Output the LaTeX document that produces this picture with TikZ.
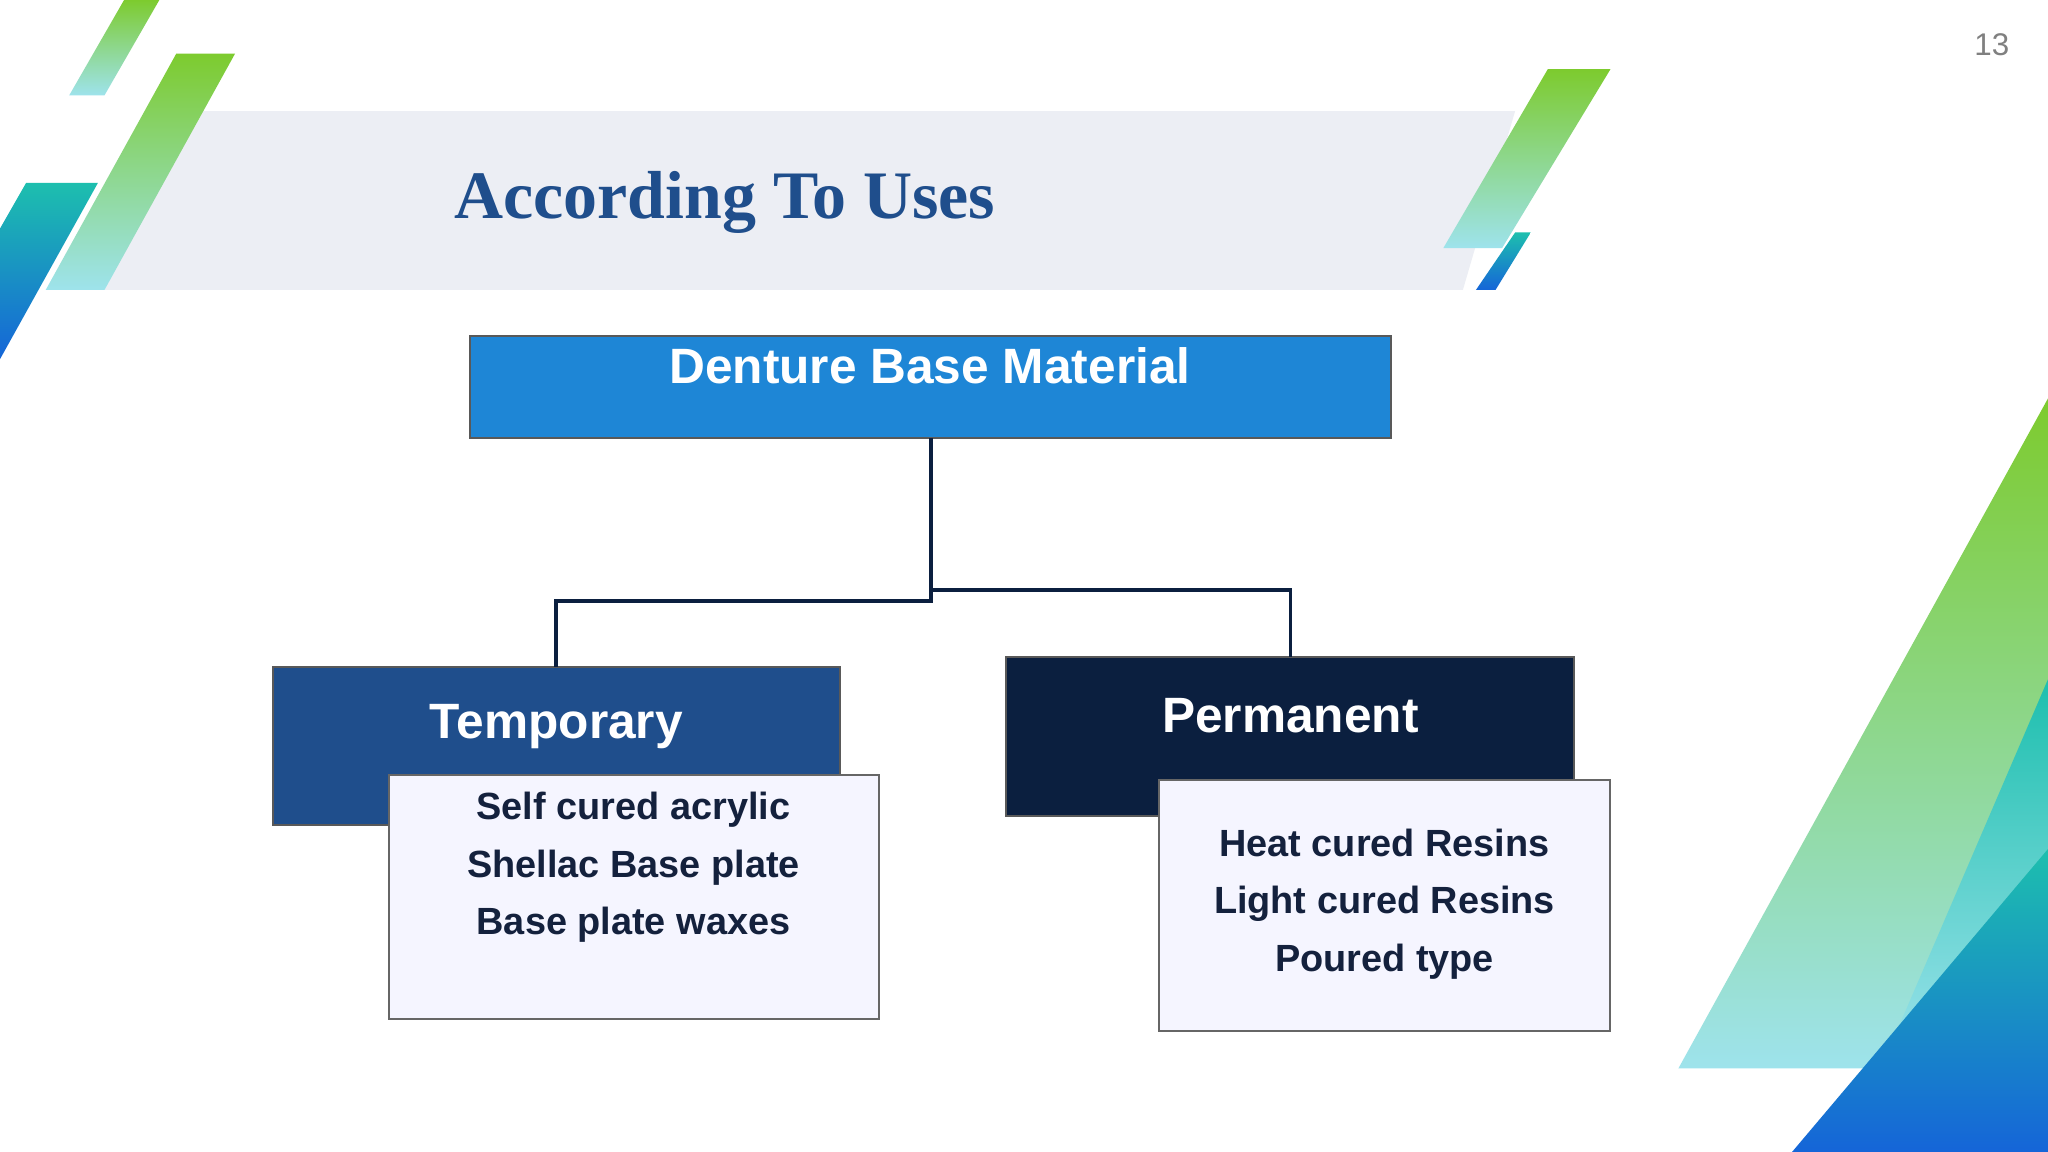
\documentclass[tikz,border=0pt]{standalone}
\usepackage{fontspec}
\setmainfont{Liberation Sans}
\newfontfamily\titlefont{Liberation Serif}
\definecolor{band}{HTML}{ECEEF4}
\definecolor{titleblue}{HTML}{1F4E8C}
\definecolor{topblue}{HTML}{1E86D6}
\definecolor{tempblue}{HTML}{1F4E8C}
\definecolor{permnavy}{HTML}{0B1F3F}
\definecolor{listtext}{HTML}{14213D}
\definecolor{sgreen}{HTML}{7DCB2E}
\definecolor{scyan}{HTML}{9EE3EC}
\definecolor{sblue}{HTML}{1565D8}
\definecolor{steal}{HTML}{1DBFAE}
\begin{document}
\begin{tikzpicture}[x=1pt,y=-1pt,
  mainbox/.style={draw=gray!70!black,line width=1.5pt,inner sep=0pt},
  listbox/.style={draw=gray!80!black,line width=1.5pt,fill=white!96!blue},
  wtext/.style={text=white,font=\bfseries\fontsize{38}{44}\selectfont},
  ltext/.style={text=listtext,font=\bfseries\fontsize{29}{44}\selectfont,align=center},
  conn/.style={draw=permnavy,line width=3pt}]
\useasboundingbox (0,0) rectangle (1568,882);
\fill[white] (0,0) rectangle (1568,882);
% band
\fill[band] (150,85) -- (1160,85) -- (1120,222) -- (80,222) -- cycle;
% stripes top-left
\shade[top color=sgreen,bottom color=scyan] (95,0) -- (122,0) -- (80,73) -- (53,73) -- cycle;
\shade[top color=sgreen,bottom color=scyan] (135,41) -- (180,41) -- (80,222) -- (35,222) -- cycle;
\shade[top color=steal,bottom color=sblue] (20,140) -- (75,140) -- (0,275) -- (0,175) -- cycle;
% stripes top-right
\shade[top color=sgreen,bottom color=scyan] (1185,53) -- (1233,53) -- (1150,190) -- (1105,190) -- cycle;
\shade[top color=steal,bottom color=sblue] (1160,178) -- (1172,178) -- (1145,222) -- (1130,222) -- cycle;
% stripes bottom-right
\shade[top color=sgreen,bottom color=scyan] (1568,305) -- (1568,818) -- (1285,818) -- cycle;
\shade[top color=steal,bottom color=scyan] (1568,520) -- (1568,818) -- (1440,818) -- cycle;
\shade[top color=steal,bottom color=sblue] (1568,650) -- (1568,882) -- (1372,882) -- cycle;
% title & page number
\node (title) at (555,155) {\titlefont\bfseries\fontsize{52}{60}\selectfont\color{titleblue}According To Uses};
\node (pg) at (1525,34) {\fontsize{24}{28}\selectfont\color{gray}13};
% boxes
\draw[mainbox,fill=topblue] (360,257) rectangle (1065,335);
\node[wtext] (top) at (712,280) {Denture Base Material};
\coordinate (topb) at (713,335);
\draw[mainbox,fill=tempblue] (209,511) rectangle (643,632);
\coordinate (tempt) at (426,511);
\node[wtext] (temp) at (426,556) {Temporary};
\draw[mainbox,fill=permnavy] (770,503) rectangle (1205,625);
\coordinate (permt) at (988,503);
\node[wtext] (perm) at (988,548) {Permanent};
\draw[listbox] (298,593) rectangle (673,780);
\node[ltext] (l1) at (485,664) {Self cured acrylic\\Shellac Base plate\\Base plate waxes};
\draw[listbox] (887,597) rectangle (1233,789);
\node[ltext] (l2) at (1060,692) {Heat cured Resins\\Light cured Resins\\Poured type};
% connectors
\draw[conn] (topb) -- (713,460) -| (tempt);
\draw[conn] (713,452) -| (permt);
\end{tikzpicture}
\end{document}
